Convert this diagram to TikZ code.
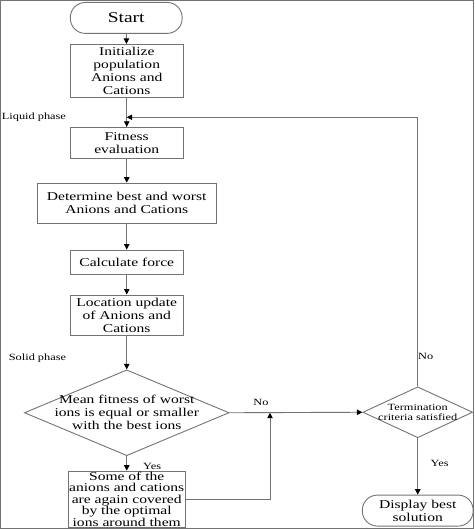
\documentclass[tikz,border=0pt]{standalone}
\usepackage{fontspec}
\setmainfont{Liberation Serif}[FakeStretch=1.3]
\usetikzlibrary{shapes.geometric,arrows.meta}
\definecolor{linegray}{gray}{0.45}

\begin{document}
\begin{tikzpicture}[x=1pt, y=-1pt,
	every path/.style={draw=linegray, line width=0.9pt},
	box/.style={rectangle, draw=linegray, minimum width=113pt, align=center, inner sep=1pt, font=\fontsize{12}{13}\selectfont},
	term/.style={rectangle, rounded corners=15pt, draw=linegray, align=center, inner sep=1pt, font=\fontsize{12}{13}\selectfont},
	decision/.style={diamond, draw=linegray, inner sep=0pt},
	lbl/.style={font=\fontsize{9.5}{10.5}\selectfont, inner sep=0pt},
	arr/.style={-{Triangle[length=5.5pt,width=5.5pt,color=black]}}]
			\useasboundingbox (0,0) rectangle (474,529);
			
			\node[term, minimum width=112pt, minimum height=31pt, font=\fontsize{15}{16}\selectfont] (start) at (126,17.5){Start};
			\node[box, minimum height=53pt] (init) at (126.5,70.5){Initialize\\population\\Anions and\\Cations};
			\node[box, minimum height=31pt] (fit) at (126.5,142.5){Fitness\\evaluation};
			\node[box, minimum width=179pt, minimum height=40pt] (best) at (126.5,203){Determine best and worst\\Anions and Cations};
			\node[box, minimum height=24pt] (force) at (126.5,262){Calculate force};
			\node[box, minimum height=41pt] (loc) at (126.5,315.5){Location update\\of Anions and\\Cations};
			
			\node[decision, minimum width=205pt, minimum height=86pt] (mean) at (126.5,413){};
			\node[align=center, inner sep=0pt, font=\fontsize{12}{13}\selectfont] (meantxt) at (mean){Mean fitness of worst\\ions is equal or smaller\\with the best ions};
			\node[box, minimum height=56pt, font=\fontsize{12}{11.6}\selectfont, inner ysep=0pt] (cover) at (126.5,499.5){Some of the\\anions and cations\\are again covered\\by the optimal\\ions around them};
			
			\node[decision, minimum width=110pt, minimum height=51pt] (term) at (418,412.5){};
			\node[align=center, inner sep=0pt, font=\fontsize{9.5}{10.7}\selectfont] (termtxt) at (term){Termination\\criteria satisfied};
			\node[term, minimum width=111pt, minimum height=31pt] (disp) at (418,511){Display best\\solution};
			
			\coordinate (join) at (270,413);
			\coordinate (top) at (418,117);
			\coordinate (back) at (126.5,117);
			
			\node[lbl, anchor=west] (liquid) at (1,117){Liquid phase};
			\node[lbl, anchor=west] (solid) at (8,358){Solid phase};
			\node[lbl] (no1) at (261,403){No};
			\node[lbl] (yes1) at (152,467){Yes};
			\node[lbl] (no2) at (426,357){No};
			\node[lbl] (yes2) at (440,464){Yes};
			
			\path[arr] (start) -- (init);
			\path (init) -- (fit);
			\path[arr] (back) -- (fit);
			\path[arr] (fit) -- (best);
			\path[arr] (best) -- (force);
			\path[arr] (force) -- (loc);
			\path[arr] (loc) -- (mean);
			\path[arr] (mean) -- (cover);
			\path[arr] (mean.east) -- (term.west);
			\path[arr] (cover.east) -| (join);
			\path[arr] (term.north) |- (back);
			\path[arr] (term) -- (disp);
\end{tikzpicture}
\end{document}
